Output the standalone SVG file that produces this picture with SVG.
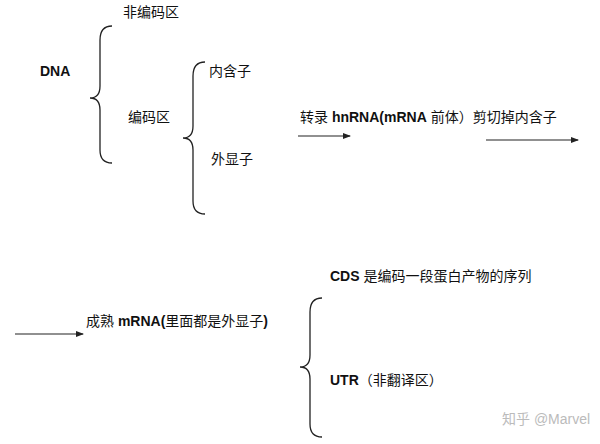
<svg xmlns="http://www.w3.org/2000/svg" width="600" height="444" viewBox="0 0 600 444">
<style>
.t{font-family:"Liberation Sans","Noto Sans CJK SC",sans-serif;font-size:14px;fill:#111}
.b{font-weight:bold}
.br{fill:none;stroke:#222;stroke-width:1.3}
.ar{stroke:#222;stroke-width:1.2;marker-end:url(#m)}
</style>
<defs><marker id="m" markerWidth="8" markerHeight="8" refX="7" refY="4" orient="auto" markerUnits="userSpaceOnUse"><path d="M0,1 L8,4 L0,7 z" fill="#222"/></marker></defs>
<rect width="600" height="444" fill="#fff"/>
<g id="braces">
<path class="br" d="M112,26 Q100,26 100,40 L100,86 Q100,98 90,98 Q100,98 100,110 L100,150 Q100,163 112,163"/>
<path class="br" d="M205,62 Q193,62 193,76 L193,126 Q193,138 183,138 Q193,138 193,150 L193,201 Q193,214 205,214"/>
<path class="br" d="M322,298 Q310,298 310,312 L310,355 Q310,367 300,367 Q310,367 310,379 L310,424 Q310,437 322,437"/>
</g>
<g id="connectors">
<line class="ar" x1="298" y1="136" x2="350" y2="136"/>
<line class="ar" x1="486" y1="140" x2="578" y2="140"/>
<line class="ar" x1="15" y1="334" x2="83" y2="334"/>
</g>
<g id="n1"><text class="t" x="123" y="17">非编码区</text></g>
<g id="n2"><text class="t b" x="40" y="76">DNA</text></g>
<g id="n3"><text class="t" x="128" y="122">编码区</text></g>
<g id="n4"><text class="t" x="209" y="76">内含子</text></g>
<g id="n5"><text class="t" x="211" y="164">外显子</text></g>
<g id="n6"><text class="t" x="300" y="122">转录 <tspan class="b">hnRNA(mRNA</tspan> 前体）剪切掉内含子</text></g>
<g id="n7"><text class="t" x="86" y="326">成熟 <tspan class="b">mRNA(</tspan>里面都是外显子<tspan class="b">)</tspan></text></g>
<g id="n8"><text class="t" x="330" y="281"><tspan class="b">CDS</tspan> 是编码一段蛋白产物的序列</text></g>
<g id="n9"><text class="t" x="330" y="385"><tspan class="b">UTR</tspan>（非翻译区）</text></g>
<text x="502" y="424" style="font-family:'Liberation Sans','Noto Sans CJK SC',sans-serif;font-size:14px;fill:#bbb">知乎 @Marvel</text>
</svg>
